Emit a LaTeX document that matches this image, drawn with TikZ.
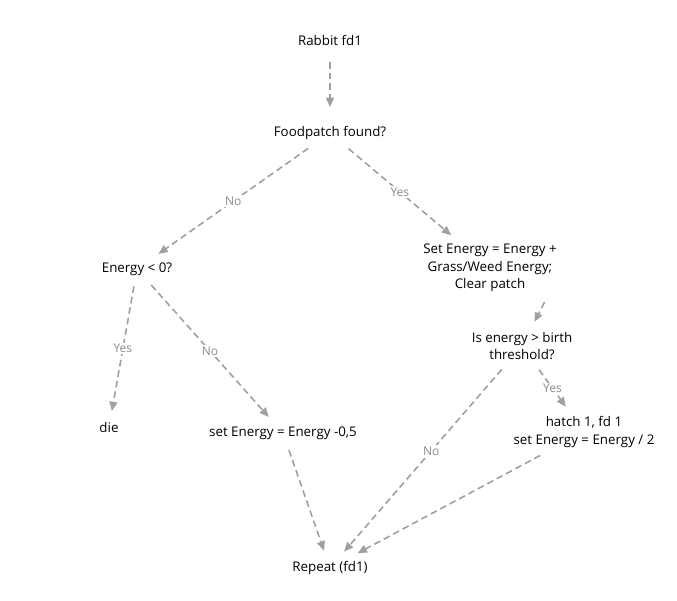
\documentclass[tikz,border=0pt]{standalone}
\usepackage{fontspec}
\setmainfont{Open Sans}
\usetikzlibrary{arrows.meta}
\begin{document}
\begin{tikzpicture}[x=0.75pt,y=-0.75pt,
  box/.style={align=center,font=\fontsize{10}{13}\selectfont,inner sep=4pt},
  conn/.style={draw={rgb,255:red,160;green,160;blue,160},dashed,dash pattern=on 5pt off 3pt,line width=1.2pt,-{Triangle[length=7pt,width=6pt]},shorten >=4pt,shorten <=4pt},
  lab/.style={fill=white,text={rgb,255:red,140;green,140;blue,140},font=\fontsize{9}{11}\selectfont,inner sep=1pt}]
\useasboundingbox (0,0) rectangle (677,600);
\node[box] (rab) at (330,40) {Rabbit fd1};
\node[box] (food) at (330,133) {Foodpatch found?};
\node[box] (en) at (137,269) {Energy < 0?};
\node[box] (set) at (490,268) {Set Energy = Energy +\\Grass/Weed Energy;\\Clear patch};
\node[box] (is) at (522,346) {Is energy > birth\\threshold?};
\node[box] (die) at (109,427) {die};
\node[box] (sete) at (283,433) {set Energy = Energy -0,5};
\node[box] (hatch) at (584,432) {hatch 1, fd 1\\set Energy = Energy / 2};
\node[box] (rep) at (330,568) {Repeat (fd1)};
\coordinate (a1) at (330,62); \coordinate (a2) at (330,107);
\draw[conn,shorten <=0pt,shorten >=0pt] (a1) -- (a2);
\draw[conn] (food) -- node[lab]{No} (en);
\draw[conn] (food) -- node[lab]{Yes} (set);
\draw[conn] (en) -- node[lab]{Yes} (die);
\draw[conn] (en) -- node[lab]{No} (sete);
\draw[conn] (set.south -| is.north) ++(25,0) -- (is);
\draw[conn] (is) -- node[lab]{Yes} (hatch);
\draw[conn] (is) -- node[lab,pos=0.45]{No} (rep);
\draw[conn] (hatch) -- (rep);
\draw[conn] (sete) -- (rep);
\end{tikzpicture}
\end{document}
